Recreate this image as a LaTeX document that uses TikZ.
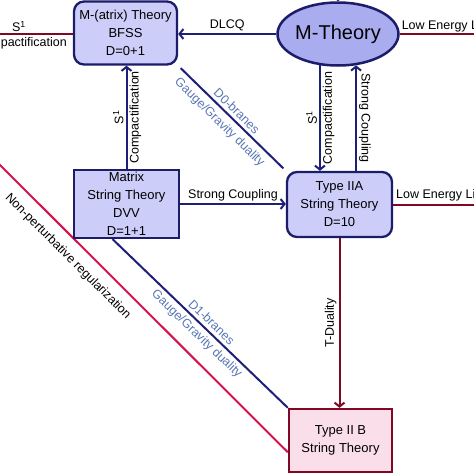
\documentclass[tikz,border=0pt]{standalone}
\usepackage{fontspec}
\setmainfont{Liberation Sans}
\usetikzlibrary{arrows.meta,shapes.geometric,backgrounds,calc}
\definecolor{navy}{RGB}{28,28,105}
\definecolor{linenavy}{RGB}{30,32,120}
\definecolor{boxfill}{RGB}{205,205,250}
\definecolor{ellipsefill}{RGB}{170,172,240}
\definecolor{darkred}{RGB}{128,8,36}
\definecolor{crimson}{RGB}{212,20,72}
\definecolor{pinkfill}{RGB}{250,222,233}
\definecolor{bluetext}{RGB}{88,118,180}
\begin{document}
\begin{tikzpicture}[x=1pt,y=-1pt,
  every node/.style={font=\fontsize{13}{18}\selectfont},
  box/.style={draw=navy, line width=2.3pt, fill=boxfill, align=center, inner sep=0pt},
  rbox/.style={box, rounded corners=10pt},
  conn/.style={draw=linenavy, line width=2pt},
  arr/.style={conn, -{Straight Barb[length=4pt,width=10pt]}},
  redline/.style={draw=darkred, line width=2pt},
  npline/.style={draw=crimson, line width=2pt},
  lab/.style={font=\fontsize{12.5}{14}\selectfont, inner sep=2pt, text=black},
  bluelab/.style={lab, text=bluetext},
]
\useasboundingbox (0,0) rectangle (474,474);

% nodes
\node[rbox, minimum width=103pt, minimum height=63pt] (MM) at (125.5,33) {M-(atrix) Theory\\BFSS\\D=0+1};
\node[ellipse, draw=navy, line width=2.5pt, fill=ellipsefill, minimum width=106pt, minimum height=63pt, inner sep=0pt, font=\fontsize{20}{24}\selectfont] (MT) at (338,34) {M-Theory};
\node[box, minimum width=105pt, minimum height=68pt] (MX) at (126.5,204) {Matrix\\String Theory\\DVV\\D=1+1};
\node[rbox, minimum width=105pt, minimum height=65pt] (IIA) at (339.5,204.5) {Type IIA\\String Theory\\D=10};
\node[box, draw=darkred, fill=pinkfill, minimum width=103pt, minimum height=63pt] (IIB) at (340.5,440.5) {Type II B\\String Theory};

\coordinate (L1) at (-3,34);
\coordinate (R1) at (478,34);
\coordinate (R2) at (478,204.5);
\coordinate (NP0) at (-4,161);
\coordinate (Top) at (338,-30);

\begin{scope}[on background layer]
  \draw[conn, shorten <=3.5pt, shorten >=3.5pt] (MM.south east)
     -- node[bluelab, sloped, above, pos=0.49, inner ysep=3pt] {D0-branes}
        node[bluelab, sloped, below, pos=0.46, inner ysep=5pt] {Gauge/Gravity duality}
     (IIA.north west);
  \draw[conn] ($(MX.south west)!0.37!(MX.south east)$)
     -- node[bluelab, sloped, above, pos=0.53, inner ysep=3.5pt] {D1-branes}
        node[bluelab, sloped, below, pos=0.52, inner ysep=3.5pt] {Gauge/Gravity duality}
     (IIB.north west);
  \draw[npline] (NP0)
     -- node[lab, sloped, below, pos=0.287, inner ysep=10pt] {Non-perturbative regularization}
     ($(IIB.south west)!0.32!(IIB.north west)$);
\end{scope}

% connectors
\draw[arr] (Top) -- (MT.north);
\draw[arr] (MT.west) -- node[lab, above] {DLCQ} (MM.east |- MT.west);
\draw[redline] (MM.west |- L1) -- node[lab, pos=0.71, above, inner sep=1pt] {S\textsuperscript{1}}
   node[lab, pos=0.04, anchor=north east, inner sep=2pt] {Compactification} (L1);
\draw[redline] (MT.east) -- node[lab, pos=0, anchor=south west, inner sep=1pt] {Low Energy Limit} (R1);
\draw[redline] (IIA.east) -- node[lab, pos=0, anchor=south west, inner sep=2pt] {Low Energy Limit} (R2);

\draw[arr] (MX.north) -- node[lab, anchor=south, rotate=90] {S\textsuperscript{1}}
   node[lab, anchor=north, rotate=90] {Compactification} (MM.south -| MX.north);
\draw[arr] (MT.240.7) -- node[lab, anchor=south, rotate=90] {S\textsuperscript{1}}
   node[lab, anchor=north, rotate=90] {Compactification} (MT.240.7 |- IIA.north);
\draw[arr] (IIA.north -| MT.300.9) -- node[lab, anchor=south, rotate=-90] {Strong Coupling} (MT.300.9);
\draw[arr] (MX.east) -- node[lab, above] {Strong Coupling} (IIA.west |- MX.east);
\draw[arr, draw=darkred] (IIA.south) -- node[lab, anchor=south, rotate=90] {T-Duality} (IIA.south |- IIB.north);
\end{tikzpicture}
\end{document}
